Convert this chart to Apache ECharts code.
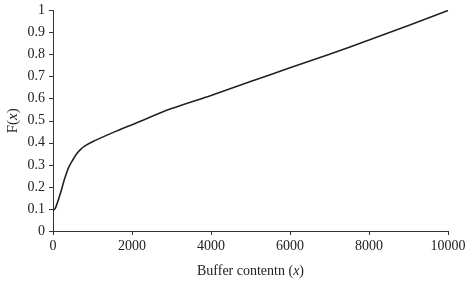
<!DOCTYPE html>
<html><head><meta charset="utf-8">
<script src="https://cdn.jsdelivr.net/npm/echarts@6/dist/echarts.min.js"></script>
<style>html,body{margin:0;padding:0;background:#fff}#c{width:474px;height:284px}</style>
</head><body><div id="c"></div>
<script>
const bufferContent = [0, 50, 100, 200, 300, 400, 500, 600, 700, 800, 1000, 1500, 2000, 3000, 4000, 5000, 6000, 7000, 8000, 9000, 10000];
const fValues = [0.093, 0.1, 0.122, 0.178, 0.24, 0.29, 0.322, 0.35, 0.37, 0.385, 0.405, 0.445, 0.482, 0.555, 0.615, 0.678, 0.74, 0.802, 0.866, 0.932, 1.0];
const xTicks = [0, 2000, 4000, 6000, 8000, 10000];
const yTicks = [0, 0.1, 0.2, 0.3, 0.4, 0.5, 0.6, 0.7, 0.8, 0.9, 1];

const font = 'Liberation Serif';
const chart = echarts.init(document.getElementById('c'));
chart.setOption({
  animation: false,
  grid: {left: 53, right: 26, top: 10.5, bottom: 53, containLabel: false, outerBoundsMode: 'none'},
  xAxis: {
    type: 'value', min: 0, max: 10000, interval: 2000,
    axisLine: {lineStyle: {color: '#333', width: 1}},
    axisTick: {show: true, inside: false, length: 4, lineStyle: {color: '#333'}},
    splitLine: {show: false},
    axisLabel: {color: '#222', fontFamily: font, fontSize: 14, margin: 8,
      formatter: v => xTicks.includes(v) ? String(v) : ''},
    name: '{n|Buffer contentn (}{i|x}{n|)}',
    nameLocation: 'middle', nameGap: 33, nameMoveOverlap: false,
    nameTextStyle: {rich: {
      n: {fontFamily: font, fontSize: 14, color: '#222'},
      i: {fontFamily: font, fontSize: 14, color: '#222', fontStyle: 'italic'}
    }}
  },
  yAxis: {
    type: 'value', min: 0, max: 1, interval: 0.1,
    axisLine: {show: true, lineStyle: {color: '#333', width: 1}},
    axisTick: {show: true, inside: false, length: 4, lineStyle: {color: '#333'}},
    splitLine: {show: false},
    axisLabel: {color: '#222', fontFamily: font, fontSize: 14, margin: 8,
      formatter: v => { const t = yTicks.find(k => Math.abs(k - v) < 1e-6); return t === undefined ? '' : String(t); }},
    name: '{n|F(}{i|x}{n|)}',
    nameLocation: 'middle', nameGap: 32, nameRotate: 90, nameMoveOverlap: false,
    nameTextStyle: {rich: {
      n: {fontFamily: font, fontSize: 15, color: '#222'},
      i: {fontFamily: font, fontSize: 15, color: '#222', fontStyle: 'italic'}
    }}
  },
  series: [{
    type: 'line', smooth: 0.3, showSymbol: false,
    data: bufferContent.map((x, i) => [x, fValues[i]]),
    lineStyle: {color: '#222', width: 1.6}
  }]
});
</script></body></html>
